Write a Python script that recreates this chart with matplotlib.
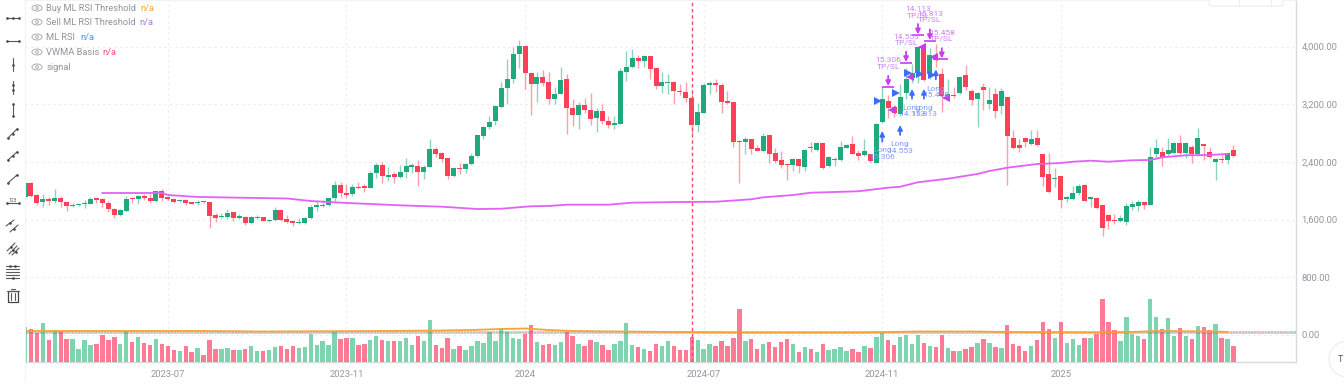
import matplotlib
matplotlib.use("Agg")
import matplotlib.pyplot as plt
from matplotlib.patches import Circle, Ellipse, FancyBboxPatch, Rectangle

plt.rcParams['font.family'] = ['Roboto', 'DejaVu Sans']

# weekly candles
opens = [1908,2111,1940,1839,1885,1857,1894,1839,1783,1797,
         1811,1820,1894,1885,1834,1751,1663,1723,1899,1880,
         1922,1903,1857,1991,1908,1885,1852,1871,1839,1829,
         1852,1839,1658,1630,1635,1700,1626,1640,1547,1621,
         1635,1575,1589,1728,1603,1575,1547,1552,1621,1778,
         1783,1797,1894,2079,1973,1954,2056,2061,2042,2241,
         2357,2195,2227,2195,2255,2334,2347,2255,2334,2574,
         2523,2449,2204,2315,2306,2366,2481,2763,2879,2962,
         3161,3429,3549,3896,4007,3637,3485,3582,3503,3272,
         3346,3545,3152,3055,3193,3119,3004,3106,2962,2916,
         2930,3651,3711,3836,3804,3864,3697,3457,3499,3512,
         3388,3369,3286,2916,3082,3471,3494,3470,3244,3225,
         2689,2670,2717,2587,2555,2768,2523,2425,2375,2351,
         2435,2333,2610,2564,2657,2338,2421,2425,2597,2647,
         2527,2490,2509,2388,2953,3244,3156,3064,3355,3558,
         3628,3998,3619,3882,3619,3272,3323,3351,3605,3378,
         3272,3443,3207,3341,3170,3300,2731,2629,2726,2643,
         2726,2509,2232,2158,2199,1890,1880,1973,2079,1890,
         1904,1802,1668,1594,1576,1571,1774,1784,1839,1807,
         2505,2542,2514,2519,2657,2519,2606,2505,2643,2542,
         2394,2440,2426,2565]
closes = [2111,1931,1834,1880,1857,1894,1839,1788,1802,1811,
          1820,1889,1876,1829,1741,1663,1728,1889,1880,1926,
          1899,1862,1991,1899,1880,1843,1876,1825,1820,1848,
          1839,1649,1626,1649,1695,1621,1649,1547,1635,1640,
          1584,1598,1728,1589,1566,1547,1561,1626,1778,1797,
          1806,1899,2079,1973,1945,2056,2038,2042,2241,2357,
          2199,2223,2195,2260,2347,2352,2255,2334,2574,2514,
          2445,2209,2310,2301,2366,2486,2768,2879,2958,3175,
          3429,3549,3901,4007,3628,3485,3582,3499,3272,3346,
          3540,3147,3055,3193,3115,2999,3106,2962,2911,2935,
          3656,3716,3841,3804,3864,3688,3452,3503,3512,3378,
          3364,3281,2911,3092,3471,3489,3471,3234,3211,2680,
          2670,2721,2578,2555,2763,2513,2407,2361,2351,2435,
          2347,2569,2587,2657,2310,2467,2439,2601,2638,2513,
          2481,2555,2416,2925,3267,3142,3073,3304,3554,3628,
          3998,3535,3878,3813,3314,3337,3309,3582,3443,3258,
          3355,3401,3253,3101,3387,2763,2588,2588,2680,2717,
          2634,2195,1982,2176,1867,1908,1964,2065,1862,1908,
          1765,1488,1580,1580,1617,1788,1816,1839,1807,2468,
          2593,2459,2565,2667,2523,2657,2505,2731,2625,2472,
          2440,2426,2519,2477]
highs = [2115,2120,1950,1959,1917,2019,1926,1839,1834,1815,
         1871,1917,1899,1894,1852,1755,1741,1926,1917,1940,
         1950,1954,2000,2019,1926,1894,1885,1880,1843,1866,
         1857,1843,1695,1695,1741,1709,1677,1649,1644,1658,
         1640,1612,1769,1732,1663,1584,1626,1635,1802,1862,
         1871,1908,2135,2125,2093,2088,2125,2088,2278,2389,
         2394,2324,2255,2357,2449,2389,2426,2357,2717,2606,
         2542,2454,2324,2380,2380,2518,2773,2898,3036,3184,
         3512,3822,3998,4090,4007,3642,3651,3674,3651,3434,
         3720,3614,3267,3230,3281,3351,3152,3207,3041,3036,
         3697,3942,3970,3882,3882,3868,3697,3642,3614,3517,
         3475,3512,3351,3212,3489,3526,3545,3489,3382,3230,
         2703,2749,2721,2633,2805,2777,2587,2555,2375,2449,
         2444,2578,2680,2675,2666,2481,2467,2684,2643,2763,
         2559,2712,2509,2943,3434,3327,3189,3480,3697,3753,
         4007,4007,3975,4035,3697,3545,3443,3591,3739,3406,
         3364,3489,3443,3420,3420,3304,2842,2713,2740,2837,
         2837,2514,2518,2310,2204,1931,2065,2088,2088,1908,
         1908,1807,1673,1682,1659,1825,1853,1871,1848,2602,
         2713,2611,2727,2676,2773,2671,2634,2865,2653,2611,
         2449,2496,2528,2634]
lows = [1905,1917,1802,1778,1802,1825,1778,1723,1769,1788,
        1765,1811,1825,1769,1709,1621,1649,1709,1825,1811,
        1871,1825,1848,1862,1871,1825,1839,1806,1815,1806,
        1834,1487,1570,1621,1612,1584,1612,1520,1533,1603,
        1580,1566,1580,1584,1547,1510,1543,1533,1612,1723,
        1769,1788,1848,1917,1904,1931,2019,1982,2033,2181,
        2112,2139,2112,2181,2172,2250,2065,2163,2324,2472,
        2403,2163,2195,2236,2250,2352,2472,2722,2861,2907,
        3152,3203,3489,3707,3406,3045,3235,3452,3203,3203,
        3337,2787,2898,2851,3073,2911,2810,2930,2870,2861,
        2921,3522,3702,3697,3720,3545,3415,3351,3337,3203,
        3327,3235,2787,2814,3073,3337,3374,3082,3197,2601,
        2102,2509,2504,2546,2541,2379,2379,2319,2148,2277,
        2240,2277,2541,2555,2296,2324,2347,2416,2587,2509,
        2425,2476,2398,2379,2944,3004,3018,3036,3277,3489,
        3489,3522,3545,3720,3096,3258,3290,3341,3397,3189,
        2888,3119,3133,3013,3064,2079,2578,2541,2611,2634,
        2625,2065,1973,2056,1756,1848,1871,1936,1857,1770,
        1742,1377,1474,1534,1562,1529,1733,1724,1751,1798,
        2435,2348,2477,2505,2505,2459,2380,2482,2426,2454,
        2149,2380,2366,2468]
volumes = [35.3,32.7,29.3,38.7,21.7,32,30.3,23.3,22.7,13,
           22,16.7,17.7,26.7,21.7,24.7,18,31,20.3,24.7,
           18.7,16.7,22.7,17.7,15.7,11.7,10.7,15.7,9.7,13.7,
           6.7,22,13,13,14,11.7,11.7,12.7,16,11,
           10.7,11.7,14.7,16.3,13,16.3,13.7,15,28.3,16.7,
           21,17.3,31.3,23,23.7,24.3,16.7,18,22,25.7,
           22,21,21.3,21.3,24,17,26,20.7,42,16.7,
           13.7,23.7,13,16.3,11.7,16,21,19.3,30.3,20.7,
           32.7,30.3,24,22.7,28.3,37,20,17.3,18.3,17,
           20.3,30.3,25.7,18,16,22,20,16.7,11.7,17.7,
           20.7,38.7,16.7,15.3,13.3,11,17.7,16,20.7,16,
           11.7,12.3,25,21.7,13.3,17.7,16.3,21,15.7,24,
           53.3,21.3,22.7,13.3,17.7,20.3,15,19.7,23.3,18.3,
           10,14.7,12.7,10.3,18.3,11.7,12.7,15.3,10.7,12.7,
           10.3,16.3,14,24.7,29,21.7,17,25.3,26.7,18,
           26.7,18.7,15.7,14.7,26.7,13.7,11,11,12.7,14.7,
           19.3,23.3,18.7,14.7,14,37.3,17.7,15.7,11,16.3,
           22.3,39.7,32.7,24,40.3,19,22.7,16.7,23.7,24,
           27.7,62.7,40.3,31.7,20.7,45,28,26,23.3,63,
           45,33.3,44.3,26,34.3,26,23,36,35,31.7,
           38,24.3,23,16.3]

basis_idx = [13,23,24,29,39,44,48,53,63,70,76,80,85,88,91,98,102,110,116,122,
             124,129,132,140,145,147,150,155,160,162,165,170,174,176,179,182,
             186,189,191,195,199,202]
basis = [1968,1968,1940,1913,1899,1892,1857,1834,1797,1778,1746,1750,1784,1788,
         1806,1806,1834,1843,1847,1881,1908,1940,1972,1992,2042,2055,2117,2166,
         2232,2273,2319,2370,2384,2402,2416,2402,2422,2426,2463,2491,2495,2509]
vol_ma_idx = [0,30,40,60,70,75,80,84,88,92,100,110,120,140,150,160,165,180,186,190,200,202]
vol_ma = [31,31,30.5,31,31.5,32,33,33.5,32,31,30.5,30,29.5,29.5,30.5,30.5,30,29.5,30,31,30.5,30]
last_vol = 30.5

tick_idx = [24,54,84,114,144,174]
tick_labels = ['2023-07','2023-11','2024','2024-07','2024-11','2025']
price_ticks = [0,800,1600,2400,3200,4000]
cross_idx = 112

# signals: Long entries and TP/SL exits
long_idx = [144,147,149,151,153]
long_txt = ['15.306','14.553','14.113','15.813','15.458']
long_tail = [2680,2773,3277,3277,3545]
long_tip = [2828,2911,3411,3411,3683]
long_lbl = [2518,2602,3105,3105,3369]
exit_idx = [145,148,150,152,154]
exit_tail = [3591,3928,4312,4238,3975]
exit_tip = [3452,3785,4169,4090,3836]
exit_bar = [3443,3776,4160,4081,3822]
exit_lbl = [3767,4095,4479,4414,4150]
enter_tri_idx = [143.3,146.3,148.3,150.3,152.3]
enter_tri = [3244,3350,3633,3619,3609]
leave_tri_idx = [145.7,148.7,150.7,152.7,154.7]
leave_tri = [3124,3572,3998,3859,3281]

legend_names = ['Buy ML RSI Threshold','Sell ML RSI Threshold','ML RSI','VWMA Basis','signal']
legend_vals = ['n/a','n/a','n/a','n/a','']
legend_cols = ['#f5a73c','#ab7fdc','#4c93f7','#f0528f','#000000']

GREEN = '#1fa97c'
RED = '#fb4058'
VGREEN = '#7ed4ae'
VRED = '#ff7a95'
BLUE = '#3f6cff'
MAG = '#c73cec'
GREY = '#9298a1'

fig = plt.figure(figsize=(13.44, 3.86), dpi=100)
ax = fig.add_axes([25/1344, 1-362/386, (1296-25)/1344, 362/386])
ax.set_xlim(0, 213.5)
ax.set_ylim(-376, 4645)
n = list(range(len(opens)))

# volume overlay, own scale
ax2 = ax.twinx()
ax2.set_ylim(0, 362)
ax2.axis('off')
vcols = [VGREEN if c >= o else VRED for o, c in zip(opens, closes)]
ax2.bar(n, volumes, width=0.74, color=vcols, zorder=2)
ax2.axhline(last_vol, color=RED, alpha=0.45, lw=1.9, ls=(0, (0.95, 1.25)), zorder=3)
ax2.axhline(last_vol, color=GREEN, alpha=0.45, lw=1.9, ls=(1.1, (0.95, 1.25)), zorder=3)
ax2.plot(vol_ma_idx, vol_ma, color='#f7a437', lw=1.3, zorder=4)

ax3 = ax.twinx()
ax3.set_ylim(ax.get_ylim())
ax3.axis('off')
cols = [GREEN if c >= o else RED for o, c in zip(opens, closes)]
ax3.vlines(n, lows, highs, colors=cols, lw=1, alpha=0.5, zorder=3)
bot = [min(o, c) for o, c in zip(opens, closes)]
hgt = [max(abs(c - o), 12) for o, c in zip(opens, closes)]
ax3.bar(n, hgt, bottom=bot, width=0.84, color=cols, zorder=4)
ax3.plot(basis_idx, basis, color='#e262f5', lw=1.3, zorder=5)
ax3.axvline(cross_idx, color='#ee4d5f', lw=1, ls=(0, (2.5, 2)), zorder=6)

# twinx puts the main ticks back on the left, so set them here
for s in ['top','left']:
    ax.spines[s].set_color('#f3f3f3')
for s in ['right','bottom']:
    ax.spines[s].set_color('#d8dadd')
    ax.spines[s].set_linewidth(1)
ax.yaxis.tick_right()
ax.set_yticks(price_ticks)
ax.set_yticklabels(['{:,.2f}'.format(v) for v in price_ticks])
ax.set_xticks(tick_idx)
ax.set_xticklabels(tick_labels)
ax.tick_params(length=0, labelsize=6.8, labelcolor=GREY, pad=4)
ax.tick_params(axis='x', pad=6)
ax.grid(True, color='#ececec', lw=0.8, ls=(0, (2, 3)))
ax.set_axisbelow(True)

for i, t0, t1, y, txt in zip(long_idx, long_tail, long_tip, long_lbl, long_txt):
    ax3.annotate('', xy=(i, t1), xytext=(i, t0), zorder=7,
                 arrowprops=dict(arrowstyle='-|>', color=BLUE, lw=1.3, mutation_scale=7,
                                 shrinkA=0, shrinkB=0))
    ax3.text(i, y, 'Long\n' + txt, color='#7f9dfb', fontsize=6, ha='center', va='center',
             linespacing=1.1, zorder=8)
for i, t0, t1, b, y, txt in zip(exit_idx, exit_tail, exit_tip, exit_bar, exit_lbl, long_txt):
    ax3.annotate('', xy=(i, t1), xytext=(i, t0), zorder=7,
                 arrowprops=dict(arrowstyle='-|>', color=MAG, lw=1.3, mutation_scale=7,
                                 shrinkA=0, shrinkB=0))
    ax3.plot([i], [b], marker='_', ms=8, mew=1.2, color=MAG, zorder=7)
    ax3.text(i, y, txt + '\nTP/SL', color='#cf80f5', fontsize=6, ha='center', va='center',
             linespacing=1.05, zorder=8)
ax3.plot(enter_tri_idx, enter_tri, ls='none', marker='>', ms=5.5, color=BLUE, mew=0, zorder=7)
ax3.plot(leave_tri_idx, leave_tri, ls='none', marker='<', ms=5.5, color=MAG, mew=0, zorder=7)

# page chrome: toolbar, legend, buttons, drawn in pixel coordinates
ui = fig.add_axes([0, 0, 1, 1], zorder=10)
ui.set_xlim(0, 1344)
ui.set_ylim(386, 0)
ui.axis('off')
ui.patch.set_alpha(0)

def seg(x0, y0, x1, y1, dots=(), lw=0.8):
    ui.plot([x0, x1], [y0, y1], color='#555a60', lw=lw, solid_capstyle='round')
    for d in dots:
        ui.plot(x0 + (x1 - x0) * d, y0 + (y1 - y0) * d, 'o', ms=1.9, color='#44484d', mew=0)

seg(7, 18, 19, 18, (0.0, 0.5, 1.0))
seg(7, 41, 19, 41, (0.0, 1.0))
seg(12.5, 58, 12.5, 71, (0.5,))
seg(12.5, 81, 12.5, 94, (0.3, 0.7))
seg(12.5, 104, 12.5, 116, (0.0, 1.0))
seg(8, 138, 17, 129, (0.0, 0.5, 1.0))
seg(8, 160, 17, 152, (0.0, 0.5, 1.0))
seg(8, 183, 17, 175, (0.0, 1.0))
seg(7, 203, 19, 203, (0.0, 1.0))
ui.text(13, 200.5, '123', fontsize=3.6, color='#555a60', ha='center', va='center')
seg(6, 226, 14, 220, (0.5,))
seg(10, 232, 18, 225, (0.5,))
seg(7, 251, 15, 243, (0.5,))
seg(9, 254, 17, 246, (0.5,))
seg(12, 255, 19, 248, (0.5,))
for yy, d in [(266, (0.3, 0.7)), (269, ()), (272, ()), (275, ()), (278, (0.5,))]:
    seg(6, yy, 19, yy, d)
ui.add_patch(Rectangle((8, 291), 9.5, 10.5, fill=False, ec='#444', lw=0.9))
seg(6.5, 291, 19, 291)
seg(10.5, 288.5, 15, 288.5)
seg(11, 293, 11, 300)
seg(14.5, 293, 14.5, 300)
ui.plot([25, 25], [0, 380], color='#f3f3f3', lw=0.8)

leg_y = [8, 22, 37, 52, 67]
val_x = [140, 139, 80, 102, 0]
for y, name, val, col, vx in zip(leg_y, legend_names, legend_vals, legend_cols, val_x):
    ui.add_patch(Ellipse((37, y), 10, 6, fill=False, ec='#a9adb3', lw=0.7))
    ui.add_patch(Circle((37, y), 1.4, fill=False, ec='#a9adb3', lw=0.7))
    ui.text(46.5, y + 0.8, name, fontsize=6.7, color='#8f949c', ha='left', va='center')
    if val:
        ui.text(vx, y + 0.8, val, fontsize=6.7, color=col, ha='left', va='center')

ui.add_patch(FancyBboxPatch((1209, -8), 74, 14, boxstyle='round,pad=0,rounding_size=2',
                            fc='white', ec='#ececec', lw=0.8))
for xx in [1239, 1271]:
    ui.plot([xx, xx], [0, 6], color='#ececec', lw=0.8)
ui.add_patch(Circle((1347, 359), 18, fc='white', ec='#efefef', lw=1))
ui.text(1340, 359, 'T', fontsize=6.5, color='#555a60', ha='center', va='center')

fig.savefig('out.png', dpi=100)
